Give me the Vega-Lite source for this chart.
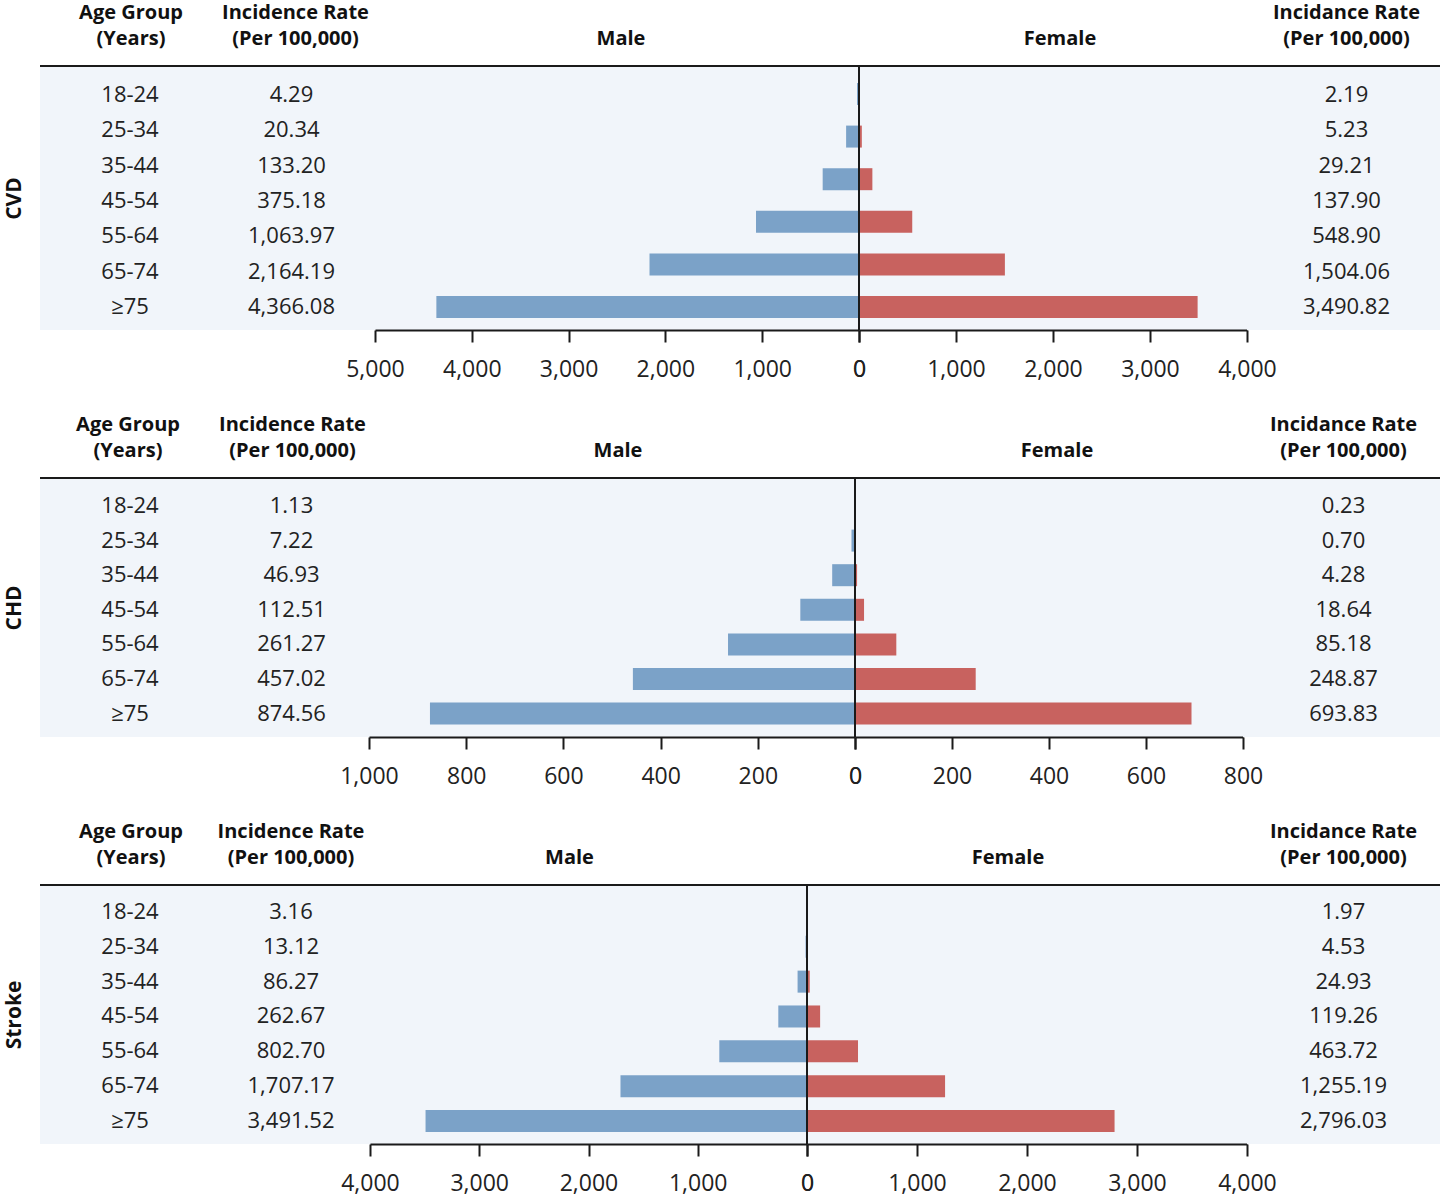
{
  "$schema": "https://vega.github.io/schema/vega-lite/v6.json",
  "padding": {"left": 3, "top": 3, "right": 0, "bottom": 0},
  "background": "white",
  "config": {
    "view": {"stroke": null, "fill": "#f1f5fa"},
    "font": "Open Sans",
    "title": {"fontSize": 20, "fontWeight": "bold", "color": "#111111", "lineHeight": 26, "offset": 16, "font": "Open Sans", "anchor": "middle"},
    "text": {"fontSize": 22, "color": "#222222", "font": "Open Sans"},
    "axisX": {"domainColor": "#1a1a1a", "domainWidth": 2, "tickColor": "#1a1a1a", "tickWidth": 2, "tickSize": 12, "labelFontSize": 23, "labelColor": "#222222", "labelPadding": 16, "labelFlush": false, "labelOverlap": false, "grid": false, "labelFont": "Open Sans"}
  },
  "datasets": {
    "cvd": [
      {"age": "18-24", "male": 4.29, "female": 2.19},
      {"age": "25-34", "male": 20.34, "female": 5.23},
      {"age": "35-44", "male": 133.20, "female": 29.21},
      {"age": "45-54", "male": 375.18, "female": 137.90},
      {"age": "55-64", "male": 1063.97, "female": 548.90},
      {"age": "65-74", "male": 2164.19, "female": 1504.06},
      {"age": "≥75", "male": 4366.08, "female": 3490.82}
    ],
    "chd": [
      {"age": "18-24", "male": 1.13, "female": 0.23},
      {"age": "25-34", "male": 7.22, "female": 0.70},
      {"age": "35-44", "male": 46.93, "female": 4.28},
      {"age": "45-54", "male": 112.51, "female": 18.64},
      {"age": "55-64", "male": 261.27, "female": 85.18},
      {"age": "65-74", "male": 457.02, "female": 248.87},
      {"age": "≥75", "male": 874.56, "female": 693.83}
    ],
    "stroke": [
      {"age": "18-24", "male": 3.16, "female": 1.97},
      {"age": "25-34", "male": 13.12, "female": 4.53},
      {"age": "35-44", "male": 86.27, "female": 24.93},
      {"age": "45-54", "male": 262.67, "female": 119.26},
      {"age": "55-64", "male": 802.70, "female": 463.72},
      {"age": "65-74", "male": 1707.17, "female": 1255.19},
      {"age": "≥75", "male": 3491.52, "female": 2796.03}
    ]
  },
  "bounds": "full",
  "spacing": 34,
  "vconcat": [
    {
      "bounds": "flush",
      "spacing": 0,
      "hconcat": [
        {
          "width": 176, "height": 264,
          "title": {"text": ["Age Group", "(Years)"], "dx": 3},
          "data": {"name": "cvd"},
          "layer": [
            {"mark": {"type": "rule", "color": "#1a1a1a", "strokeWidth": 2}, "encoding": {"y": {"value": 0}}},
            {"mark": {"type": "text", "dx": 2},
             "encoding": {
               "y": {"field": "age", "type": "nominal", "sort": null, "scale": {"type": "band", "paddingInner": 0, "paddingOuter": 0.236, "align": 0.68},
                     "axis": {"title": "CVD", "labels": false, "ticks": false, "domain": false, "grid": false, "titleFontSize": 21, "titleFontWeight": "bold", "titleColor": "#111111", "titlePadding": 16}},
               "text": {"field": "age", "type": "nominal"}
             }}
          ]
        },
        {
          "width": 159, "height": 264,
          "title": {"text": ["Incidence Rate", "(Per 100,000)"]},
          "data": {"name": "cvd"},
          "layer": [
            {"mark": {"type": "rule", "color": "#1a1a1a", "strokeWidth": 2}, "encoding": {"y": {"value": 0}}},
            {"mark": {"type": "text", "dx": -4},
             "encoding": {
               "y": {"field": "age", "type": "nominal", "sort": null, "scale": {"type": "band", "paddingInner": 0, "paddingOuter": 0.236, "align": 0.68}, "axis": null},
               "text": {"field": "male", "type": "quantitative", "format": ",.2f"}
             }}
          ]
        },
        {
          "width": 484, "height": 264,
          "title": {"text": "Male", "dx": 4},
          "data": {"name": "cvd"},
          "transform": [{"filter": "datum.age !== '18-24'"}],
          "layer": [
            {"mark": {"type": "rule", "color": "#1a1a1a", "strokeWidth": 2}, "encoding": {"y": {"value": 0}}},
            {"mark": {"type": "bar", "color": "#7ba2c8"},
             "encoding": {
               "y": {"field": "age", "type": "nominal", "sort": null, "scale": {"paddingInner": 0.484, "paddingOuter": 0.34, "align": 0.586}, "axis": null},
               "x": {"field": "male", "type": "quantitative", "title": null, "scale": {"domain": [0, 5000], "reverse": true, "nice": false},
                     "axis": {"values": [0, 1000, 2000, 3000, 4000, 5000], "format": ",.0f", "title": null}}
             }}
          ]
        },
        {
          "width": 388, "height": 264,
          "title": {"text": "Female", "dx": 7},
          "data": {"name": "cvd"},
          "transform": [{"filter": "datum.age !== '18-24'"}],
          "layer": [
            {"mark": {"type": "rule", "color": "#1a1a1a", "strokeWidth": 2}, "encoding": {"y": {"value": 0}}},
            {"mark": {"type": "bar", "color": "#c8625f"},
             "encoding": {
               "y": {"field": "age", "type": "nominal", "sort": null, "scale": {"paddingInner": 0.484, "paddingOuter": 0.34, "align": 0.586}, "axis": null},
               "x": {"field": "female", "type": "quantitative", "title": null, "scale": {"domain": [0, 4000], "nice": false},
                     "axis": {"values": [0, 1000, 2000, 3000, 4000], "format": ",.0f", "title": null}}
             }},
            {"mark": {"type": "rule", "color": "#1a1a1a", "strokeWidth": 2}, "encoding": {"x": {"datum": 0}}}
          ]
        },
        {
          "width": 193, "height": 264,
          "title": {"text": ["Incidance Rate", "(Per 100,000)"], "dx": 3},
          "data": {"name": "cvd"},
          "layer": [
            {"mark": {"type": "rule", "color": "#1a1a1a", "strokeWidth": 2}, "encoding": {"y": {"value": 0}}},
            {"mark": {"type": "text", "dx": 3},
             "encoding": {
               "y": {"field": "age", "type": "nominal", "sort": null, "scale": {"type": "band", "paddingInner": 0, "paddingOuter": 0.236, "align": 0.68}, "axis": null},
               "text": {"field": "female", "type": "quantitative", "format": ",.2f"}
             }}
          ]
        }
      ]
    },
    {
      "bounds": "flush",
      "spacing": 0,
      "hconcat": [
        {
          "width": 176, "height": 259,
          "title": {"text": ["Age Group", "(Years)"]},
          "data": {"name": "chd"},
          "layer": [
            {"mark": {"type": "rule", "color": "#1a1a1a", "strokeWidth": 2}, "encoding": {"y": {"value": 0}}},
            {"mark": {"type": "text", "dx": 2},
             "encoding": {
               "y": {"field": "age", "type": "nominal", "sort": null, "scale": {"type": "band", "paddingInner": 0.364, "paddingOuter": 0.425, "align": 0.578},
                     "axis": {"title": "CHD", "labels": false, "ticks": false, "domain": false, "grid": false, "titleFontSize": 21, "titleFontWeight": "bold", "titleColor": "#111111", "titlePadding": 16}},
               "text": {"field": "age", "type": "nominal"}
             }}
          ]
        },
        {
          "width": 153, "height": 259,
          "title": {"text": ["Incidence Rate", "(Per 100,000)"]},
          "data": {"name": "chd"},
          "layer": [
            {"mark": {"type": "rule", "color": "#1a1a1a", "strokeWidth": 2}, "encoding": {"y": {"value": 0}}},
            {"mark": {"type": "text", "dx": -1},
             "encoding": {
               "y": {"field": "age", "type": "nominal", "sort": null, "scale": {"type": "band", "paddingInner": 0.364, "paddingOuter": 0.425, "align": 0.578}, "axis": null},
               "text": {"field": "male", "type": "quantitative", "format": ",.2f"}
             }}
          ]
        },
        {
          "width": 486, "height": 259,
          "title": {"text": "Male", "dx": 6},
          "data": {"name": "chd"},
          "layer": [
            {"mark": {"type": "rule", "color": "#1a1a1a", "strokeWidth": 2}, "encoding": {"y": {"value": 0}}},
            {"mark": {"type": "bar", "color": "#7ba2c8"},
             "encoding": {
               "y": {"field": "age", "type": "nominal", "sort": null, "scale": {"paddingInner": 0.364, "paddingOuter": 0.425, "align": 0.578}, "axis": null},
               "x": {"field": "male", "type": "quantitative", "title": null, "scale": {"domain": [0, 1000], "reverse": true, "nice": false},
                     "axis": {"values": [0, 200, 400, 600, 800, 1000], "format": ",.0f", "title": null}}
             }}
          ]
        },
        {
          "width": 388, "height": 259,
          "title": {"text": "Female", "dx": 8},
          "data": {"name": "chd"},
          "layer": [
            {"mark": {"type": "rule", "color": "#1a1a1a", "strokeWidth": 2}, "encoding": {"y": {"value": 0}}},
            {"mark": {"type": "bar", "color": "#c8625f"},
             "encoding": {
               "y": {"field": "age", "type": "nominal", "sort": null, "scale": {"paddingInner": 0.364, "paddingOuter": 0.425, "align": 0.578}, "axis": null},
               "x": {"field": "female", "type": "quantitative", "title": null, "scale": {"domain": [0, 800], "nice": false},
                     "axis": {"values": [0, 200, 400, 600, 800], "format": ",.0f", "title": null}}
             }},
            {"mark": {"type": "rule", "color": "#1a1a1a", "strokeWidth": 2}, "encoding": {"x": {"datum": 0}}}
          ]
        },
        {
          "width": 197, "height": 259,
          "title": {"text": ["Incidance Rate", "(Per 100,000)"], "dx": 2},
          "data": {"name": "chd"},
          "layer": [
            {"mark": {"type": "rule", "color": "#1a1a1a", "strokeWidth": 2}, "encoding": {"y": {"value": 0}}},
            {"mark": {"type": "text", "dx": 2},
             "encoding": {
               "y": {"field": "age", "type": "nominal", "sort": null, "scale": {"type": "band", "paddingInner": 0.364, "paddingOuter": 0.425, "align": 0.578}, "axis": null},
               "text": {"field": "female", "type": "quantitative", "format": ",.2f"}
             }}
          ]
        }
      ]
    },
    {
      "bounds": "flush",
      "spacing": 0,
      "hconcat": [
        {
          "width": 176, "height": 259,
          "title": {"text": ["Age Group", "(Years)"], "dx": 3},
          "data": {"name": "stroke"},
          "layer": [
            {"mark": {"type": "rule", "color": "#1a1a1a", "strokeWidth": 2}, "encoding": {"y": {"value": 0}}},
            {"mark": {"type": "text", "dx": 2},
             "encoding": {
               "y": {"field": "age", "type": "nominal", "sort": null, "scale": {"type": "band", "paddingInner": 0.368, "paddingOuter": 0.4, "align": 0.571},
                     "axis": {"title": "Stroke", "labels": false, "ticks": false, "domain": false, "grid": false, "titleFontSize": 21, "titleFontWeight": "bold", "titleColor": "#111111", "titlePadding": 16}},
               "text": {"field": "age", "type": "nominal"}
             }}
          ]
        },
        {
          "width": 154, "height": 259,
          "title": {"text": ["Incidence Rate", "(Per 100,000)"], "dx": -2},
          "data": {"name": "stroke"},
          "layer": [
            {"mark": {"type": "rule", "color": "#1a1a1a", "strokeWidth": 2}, "encoding": {"y": {"value": 0}}},
            {"mark": {"type": "text", "dx": -2},
             "encoding": {
               "y": {"field": "age", "type": "nominal", "sort": null, "scale": {"type": "band", "paddingInner": 0.368, "paddingOuter": 0.4, "align": 0.571}, "axis": null},
               "text": {"field": "male", "type": "quantitative", "format": ",.2f"}
             }}
          ]
        },
        {
          "width": 437, "height": 259,
          "title": {"text": "Male", "dx": -19},
          "data": {"name": "stroke"},
          "layer": [
            {"mark": {"type": "rule", "color": "#1a1a1a", "strokeWidth": 2}, "encoding": {"y": {"value": 0}}},
            {"mark": {"type": "bar", "color": "#7ba2c8"},
             "encoding": {
               "y": {"field": "age", "type": "nominal", "sort": null, "scale": {"paddingInner": 0.368, "paddingOuter": 0.4, "align": 0.571}, "axis": null},
               "x": {"field": "male", "type": "quantitative", "title": null, "scale": {"domain": [0, 4000], "reverse": true, "nice": false},
                     "axis": {"values": [0, 1000, 2000, 3000, 4000], "format": ",.0f", "title": null}}
             }}
          ]
        },
        {
          "width": 440, "height": 259,
          "title": {"text": "Female", "dx": -19},
          "data": {"name": "stroke"},
          "layer": [
            {"mark": {"type": "rule", "color": "#1a1a1a", "strokeWidth": 2}, "encoding": {"y": {"value": 0}}},
            {"mark": {"type": "bar", "color": "#c8625f"},
             "encoding": {
               "y": {"field": "age", "type": "nominal", "sort": null, "scale": {"paddingInner": 0.368, "paddingOuter": 0.4, "align": 0.571}, "axis": null},
               "x": {"field": "female", "type": "quantitative", "title": null, "scale": {"domain": [0, 4000], "nice": false},
                     "axis": {"values": [0, 1000, 2000, 3000, 4000], "format": ",.0f", "title": null}}
             }},
            {"mark": {"type": "rule", "color": "#1a1a1a", "strokeWidth": 2}, "encoding": {"x": {"datum": 0}}}
          ]
        },
        {
          "width": 193, "height": 259,
          "title": {"text": ["Incidance Rate", "(Per 100,000)"]},
          "data": {"name": "stroke"},
          "layer": [
            {"mark": {"type": "rule", "color": "#1a1a1a", "strokeWidth": 2}, "encoding": {"y": {"value": 0}}},
            {"mark": {"type": "text"},
             "encoding": {
               "y": {"field": "age", "type": "nominal", "sort": null, "scale": {"type": "band", "paddingInner": 0.368, "paddingOuter": 0.4, "align": 0.571}, "axis": null},
               "text": {"field": "female", "type": "quantitative", "format": ",.2f"}
             }}
          ]
        }
      ]
    }
  ]
}
